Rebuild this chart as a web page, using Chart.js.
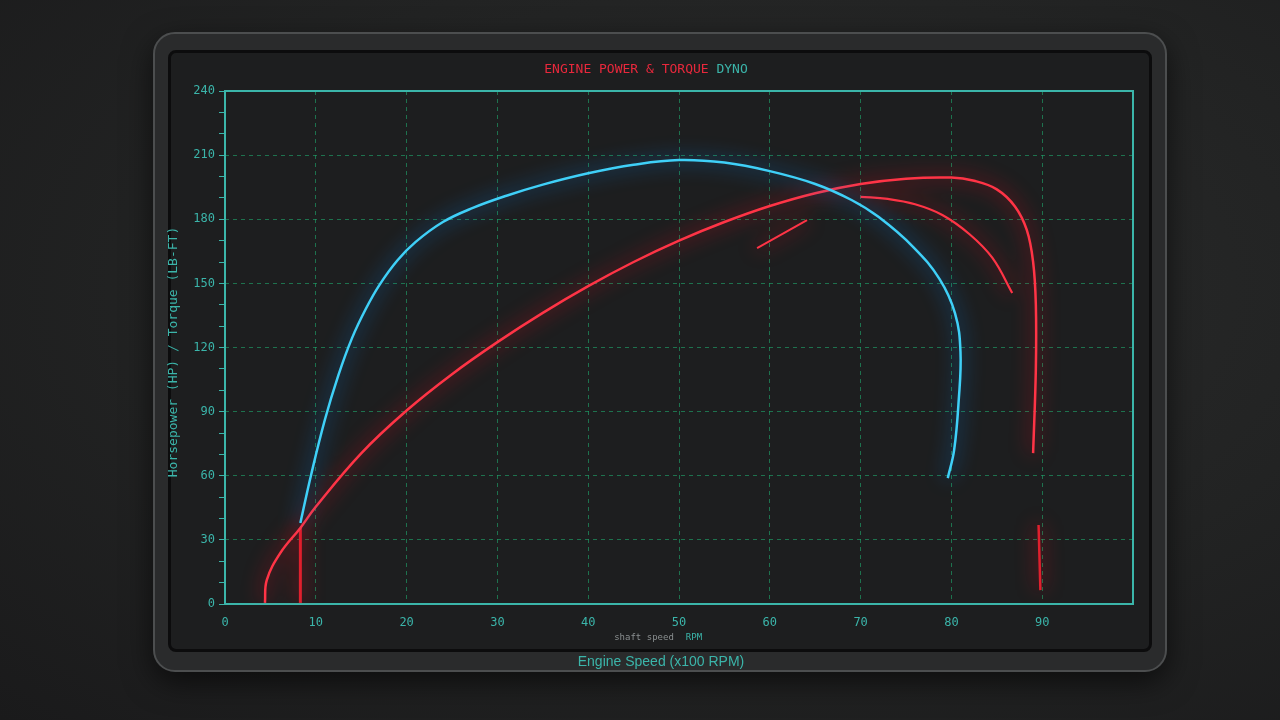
<!DOCTYPE html>
<html lang="en">
<head>
    <meta charset="UTF-8">
    <title>Engine Power &amp; Torque Dyno</title>
    <script src="https://cdn.jsdelivr.net/npm/chart.js"></script>
    <style>
        html, body {
            margin: 0;
            width: 1280px;
            height: 720px;
            overflow: hidden;
            background: radial-gradient(ellipse at 60% 40%, #2b2c2c 0%, #222323 55%, #1a1a1b 100%);
        }
        .bezel {
            position: absolute;
            left: 153px; top: 32px;
            width: 1010px; height: 636px;
            border: 2px solid #4c4e4f;
            border-radius: 22px;
            background: #2a2b2c;
            box-shadow: 0 10px 30px rgba(0, 0, 0, 0.6);
        }
        .screen {
            position: absolute;
            left: 168px; top: 50px;
            width: 978px; height: 596px;
            border: 3px solid #0c0c0d;
            border-radius: 8px;
            background: #1d1e1f;
        }
        canvas {
            position: absolute;
            left: 0; top: 0;
        }
    </style>
</head>
<body>
    <div class="bezel"></div>
    <div class="screen"></div>
    <canvas id="dynoChart" width="1280" height="720"></canvas>

    <script>
        // engine speed in x100 rpm, output on the left scale
        const powerCurve = [
            {x: 8.3, y: 37.9}, {x: 9.5, y: 60.7}, {x: 11, y: 86.2}, {x: 12.5, y: 107.2},
            {x: 14, y: 124.5}, {x: 15.5, y: 138}, {x: 17, y: 149.2}, {x: 19, y: 160.8},
            {x: 21, y: 169.4}, {x: 24, y: 178.7}, {x: 27.3, y: 185.3}, {x: 31, y: 191},
            {x: 35, y: 196.2}, {x: 40, y: 201.5}, {x: 45, y: 205.5}, {x: 50, y: 207.7},
            {x: 55, y: 206.5}, {x: 60, y: 202.5}, {x: 65, y: 196.5}, {x: 69, y: 189},
            {x: 72, y: 181}, {x: 75.8, y: 167}, {x: 78.7, y: 152}, {x: 80.4, y: 136},
            {x: 81, y: 118}, {x: 80.8, y: 95}, {x: 80.3, y: 72}, {x: 79.6, y: 58.9}
        ];
        const torqueCurve = [
            {x: 4.4, y: 0.5}, {x: 4.6, y: 11.2}, {x: 6.1, y: 23.9}, {x: 8.3, y: 35.6},
            {x: 10, y: 45.5}, {x: 15, y: 70.5}, {x: 20, y: 90.5}, {x: 25, y: 107.5},
            {x: 30, y: 122.5}, {x: 35, y: 136.2}, {x: 40, y: 148.7}, {x: 45, y: 160},
            {x: 50, y: 170}, {x: 55, y: 178.7}, {x: 60, y: 186.2}, {x: 65, y: 192.2},
            {x: 70, y: 196.5}, {x: 75, y: 199}, {x: 80, y: 199.5}, {x: 82.5, y: 198},
            {x: 85, y: 194}, {x: 87, y: 186}, {x: 88.3, y: 175}, {x: 89, y: 160},
            {x: 89.3, y: 140}, {x: 89.3, y: 110}, {x: 89.0, y: 70.6}
        ];
        const torqueRun2 = [
            {x: 70, y: 190.5}, {x: 73, y: 189.5}, {x: 76, y: 187}, {x: 79, y: 182},
            {x: 82, y: 173}, {x: 84.5, y: 162}, {x: 86.7, y: 145.5}
        ];
        const torqueTrace = [{x: 58.6, y: 166.5}, {x: 64.1, y: 179.6}];
        const startMarker = [{x: 8.3, y: 35.6}, {x: 8.3, y: 0.5}];
        const endMarker = [{x: 89.6, y: 37.0}, {x: 89.8, y: 6.5}];

        const yMax = 240;
        const yLabelStep = 30;
        const yMinorStep = 10;
        const xMax = 100;
        const xStep = 10;

        const teal = '#3bb5aa';
        const gridGreen = 'rgba(30, 160, 105, 0.65)';
        const monoFont = 'DejaVu Sans Mono';

        function curve(label, data, color, glow, width) {
            return {
                label: label,
                data: data,
                showLine: true,
                borderColor: color,
                borderWidth: width,
                pointRadius: 0,
                tension: 0.4,
                fill: false,
                glowColor: glow
            };
        }

        const glowPlugin = {
            id: 'glow',
            beforeDatasetDraw(chart, args) {
                const ctx = chart.ctx;
                ctx.save();
                ctx.shadowColor = args.meta._dataset.glowColor || 'transparent';
                ctx.shadowBlur = 20;
            },
            afterDatasetDraw(chart) {
                chart.ctx.restore();
            }
        };

        const frameAndText = {
            id: 'frameAndText',
            beforeDatasetsDraw(chart) {
                const {ctx, chartArea: a} = chart;
                ctx.save();
                ctx.strokeStyle = teal;
                ctx.lineWidth = 2;
                ctx.strokeRect(a.left, a.top, a.right - a.left, a.bottom - a.top);
                ctx.restore();
            },
            afterDraw(chart) {
                const ctx = chart.ctx;
                ctx.save();
                // two-colour title
                ctx.font = '13px ' + monoFont;
                ctx.textBaseline = 'middle';
                const t1 = 'ENGINE POWER & TORQUE', t2 = ' DYNO';
                const w1 = ctx.measureText(t1).width, w2 = ctx.measureText(t2).width;
                let x = 646 - (w1 + w2) / 2;
                ctx.fillStyle = '#e8283c';
                ctx.fillText(t1, x, 70);
                ctx.fillStyle = teal;
                ctx.fillText(t2, x + w1, 70);

                // y title, vertical
                ctx.translate(174, 352);
                ctx.rotate(-Math.PI / 2);
                ctx.textAlign = 'center';
                ctx.font = '13px ' + monoFont;
                ctx.fillStyle = teal;
                ctx.fillText('Horsepower (HP) / Torque (LB-FT)', 0, 0);
                ctx.setTransform(1, 0, 0, 1, 0, 0);
                ctx.scale(chart.currentDevicePixelRatio, chart.currentDevicePixelRatio);

                // small caption under the axis and the x title
                ctx.textAlign = 'center';
                ctx.font = '9px ' + monoFont;
                ctx.fillStyle = '#8a8f90';
                ctx.fillText('shaft speed', 644, 638);
                ctx.fillStyle = teal;
                ctx.fillText('RPM', 694, 638);
                ctx.font = '14px "Liberation Sans"';
                ctx.fillStyle = teal;
                ctx.fillText('Engine Speed (x100 RPM)', 661, 662);
                ctx.restore();
            }
        };

        new Chart(document.getElementById('dynoChart'), {
            type: 'scatter',
            data: {
                datasets: [
                    curve('Power', powerCurve, '#3fd0f8', '#0a8cff', 2.5),
                    curve('Torque', torqueCurve, '#ff3446', '#ff0a1e', 2.5),
                    curve('Torque run 2', torqueRun2, '#ff3446', '#ff0a1e', 2.2),
                    curve('Torque trace', torqueTrace, '#ff3446', '#ff0a1e', 2),
                    curve('Start', startMarker, '#e0202e', '#ff0a1e', 3),
                    curve('End', endMarker, '#e0202e', '#ff0a1e', 2.5)
                ]
            },
            plugins: [glowPlugin, frameAndText],
            options: {
                responsive: false,
                animation: false,
                layout: {
                    padding: {left: 165, right: 147, top: 91, bottom: 76}
                },
                plugins: {
                    legend: {display: false},
                    tooltip: {enabled: false}
                },
                scales: {
                    x: {
                        type: 'linear',
                        min: 0,
                        max: xMax,
                        afterFit: function(scale) { scale.height = 40; },
                        grid: {
                            color: gridGreen,
                            drawTicks: false
                        },
                        border: {display: false, dash: [4, 4]},
                        ticks: {
                            stepSize: xStep,
                            padding: 12,
                            color: teal,
                            font: {family: monoFont, size: 12},
                            callback: function(value) {
                                return value === xMax ? '' : value;
                            }
                        }
                    },
                    y: {
                        type: 'linear',
                        min: 0,
                        max: yMax,
                        afterFit: function(scale) { scale.width = 60; },
                        grid: {
                            color: function(c) {
                                return c.tick && c.tick.value % yLabelStep === 0 ? gridGreen : 'transparent';
                            },
                            tickColor: teal,
                            tickLength: 6
                        },
                        border: {display: false, dash: [4, 4]},
                        ticks: {
                            stepSize: yMinorStep,
                            autoSkip: false,
                            padding: 4,
                            color: teal,
                            font: {family: monoFont, size: 12},
                            callback: function(value) {
                                return value % yLabelStep === 0 ? value : '';
                            }
                        }
                    }
                }
            }
        });
    </script>
</body>
</html>
